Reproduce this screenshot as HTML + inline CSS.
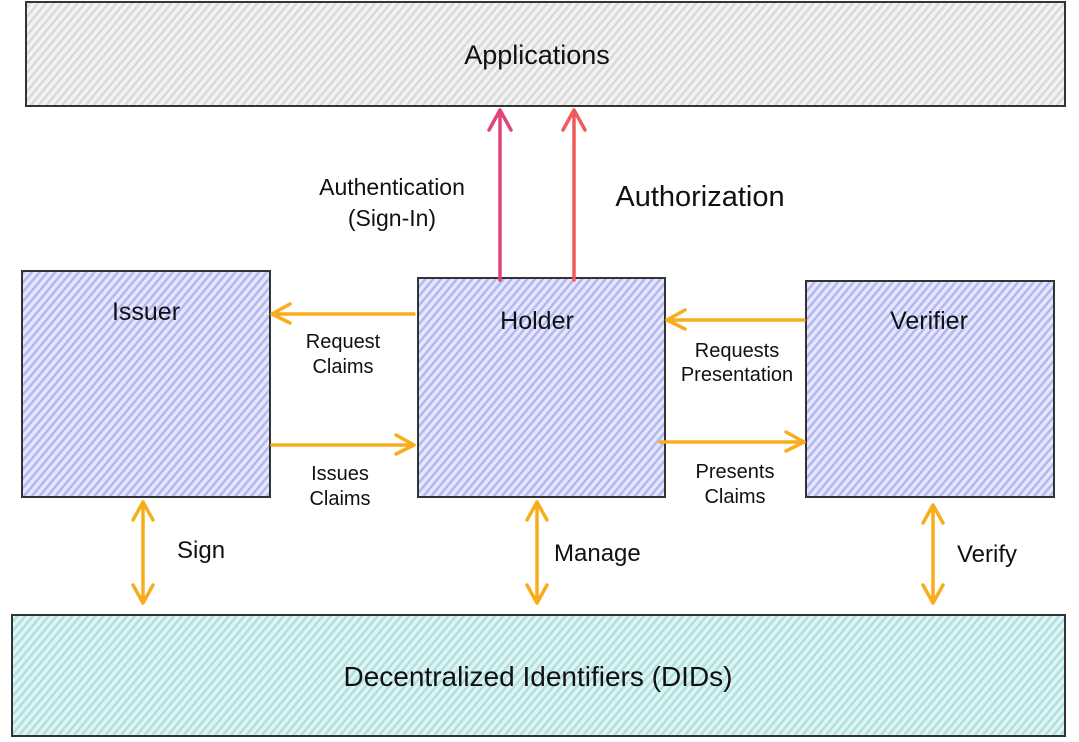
<!DOCTYPE html>
<html><head><meta charset="utf-8"><style>
html,body{margin:0;padding:0;background:#fff;}
svg{display:block;font-family:"Liberation Sans",Arial,sans-serif;}
</style></head><body>
<svg width="1079" height="742" viewBox="0 0 1079 742" xmlns="http://www.w3.org/2000/svg">
<defs>
<pattern id="hg" width="6" height="6" patternUnits="userSpaceOnUse" patternTransform="rotate(40)">
<rect width="6" height="6" fill="#f3f3f3"/><rect width="2.5" height="6" fill="#d9d9d9"/></pattern>
<pattern id="hb" width="6" height="6" patternUnits="userSpaceOnUse" patternTransform="rotate(40)">
<rect width="6" height="6" fill="#e6e7fb"/><rect width="2.5" height="6" fill="#b3b7f3"/></pattern>
<pattern id="ht" width="6" height="6" patternUnits="userSpaceOnUse" patternTransform="rotate(40)">
<rect width="6" height="6" fill="#e0f4f4"/><rect width="2.5" height="6" fill="#ade0e0"/></pattern>
</defs>
<g stroke="#333" stroke-width="2">
<rect x="26" y="2" width="1039" height="104" fill="url(#hg)"/>
<rect x="22" y="271" width="248" height="226" fill="url(#hb)"/>
<rect x="418" y="278" width="247" height="219" fill="url(#hb)"/>
<rect x="806" y="281" width="248" height="216" fill="url(#hb)"/>
<rect x="12" y="615" width="1053" height="121" fill="url(#ht)"/>
</g>
<g fill="none" stroke-width="3.5" stroke-linecap="round" stroke-linejoin="round">
<path d="M500 280 V110 M489 130 L500 110 L511 130" stroke="#e0457a"/>
<path d="M574 280 V110 M563 130 L574 110 L585 130" stroke="#f05a5a"/>
<g stroke="#f7ad1c">
<path d="M414 314 H272 M290 304 L272 314 L290 323"/>
<path d="M272 445 H414 M396 435 L414 445 L396 454"/>
<path d="M804 320 H667 M685 310 L667 320 L685 329"/>
<path d="M660 442 H804 M786 432 L804 442 L786 451"/>
<path d="M143 502 V603 M133 520 L143 502 L153 520 M133 585 L143 603 L153 585"/>
<path d="M537 502 V603 M527 520 L537 502 L547 520 M527 585 L537 603 L547 585"/>
<path d="M933 505 V603 M923 523 L933 505 L943 523 M923 585 L933 603 L943 585"/>
</g></g>
<g fill="#111" text-anchor="middle">
<text x="537" y="64" font-size="27">Applications</text>
<text x="146" y="320" font-size="25">Issuer</text>
<text x="537" y="329" font-size="25">Holder</text>
<text x="929" y="329" font-size="25">Verifier</text>
<text x="538" y="686" font-size="28">Decentralized Identifiers (DIDs)</text>
<text x="392" y="195" font-size="23">Authentication</text>
<text x="392" y="226" font-size="23">(Sign-In)</text>
<text x="700" y="206" font-size="29">Authorization</text>
<text x="343" y="348" font-size="20">Request</text>
<text x="343" y="373" font-size="20">Claims</text>
<text x="340" y="480" font-size="20">Issues</text>
<text x="340" y="505" font-size="20">Claims</text>
<text x="737" y="357" font-size="20">Requests</text>
<text x="737" y="381" font-size="20">Presentation</text>
<text x="735" y="478" font-size="20">Presents</text>
<text x="735" y="503" font-size="20">Claims</text>
</g>
<g fill="#111" font-size="24">
<text x="177" y="558">Sign</text>
<text x="554" y="561">Manage</text>
<text x="957" y="562">Verify</text>
</g>
</svg>
</body></html>
